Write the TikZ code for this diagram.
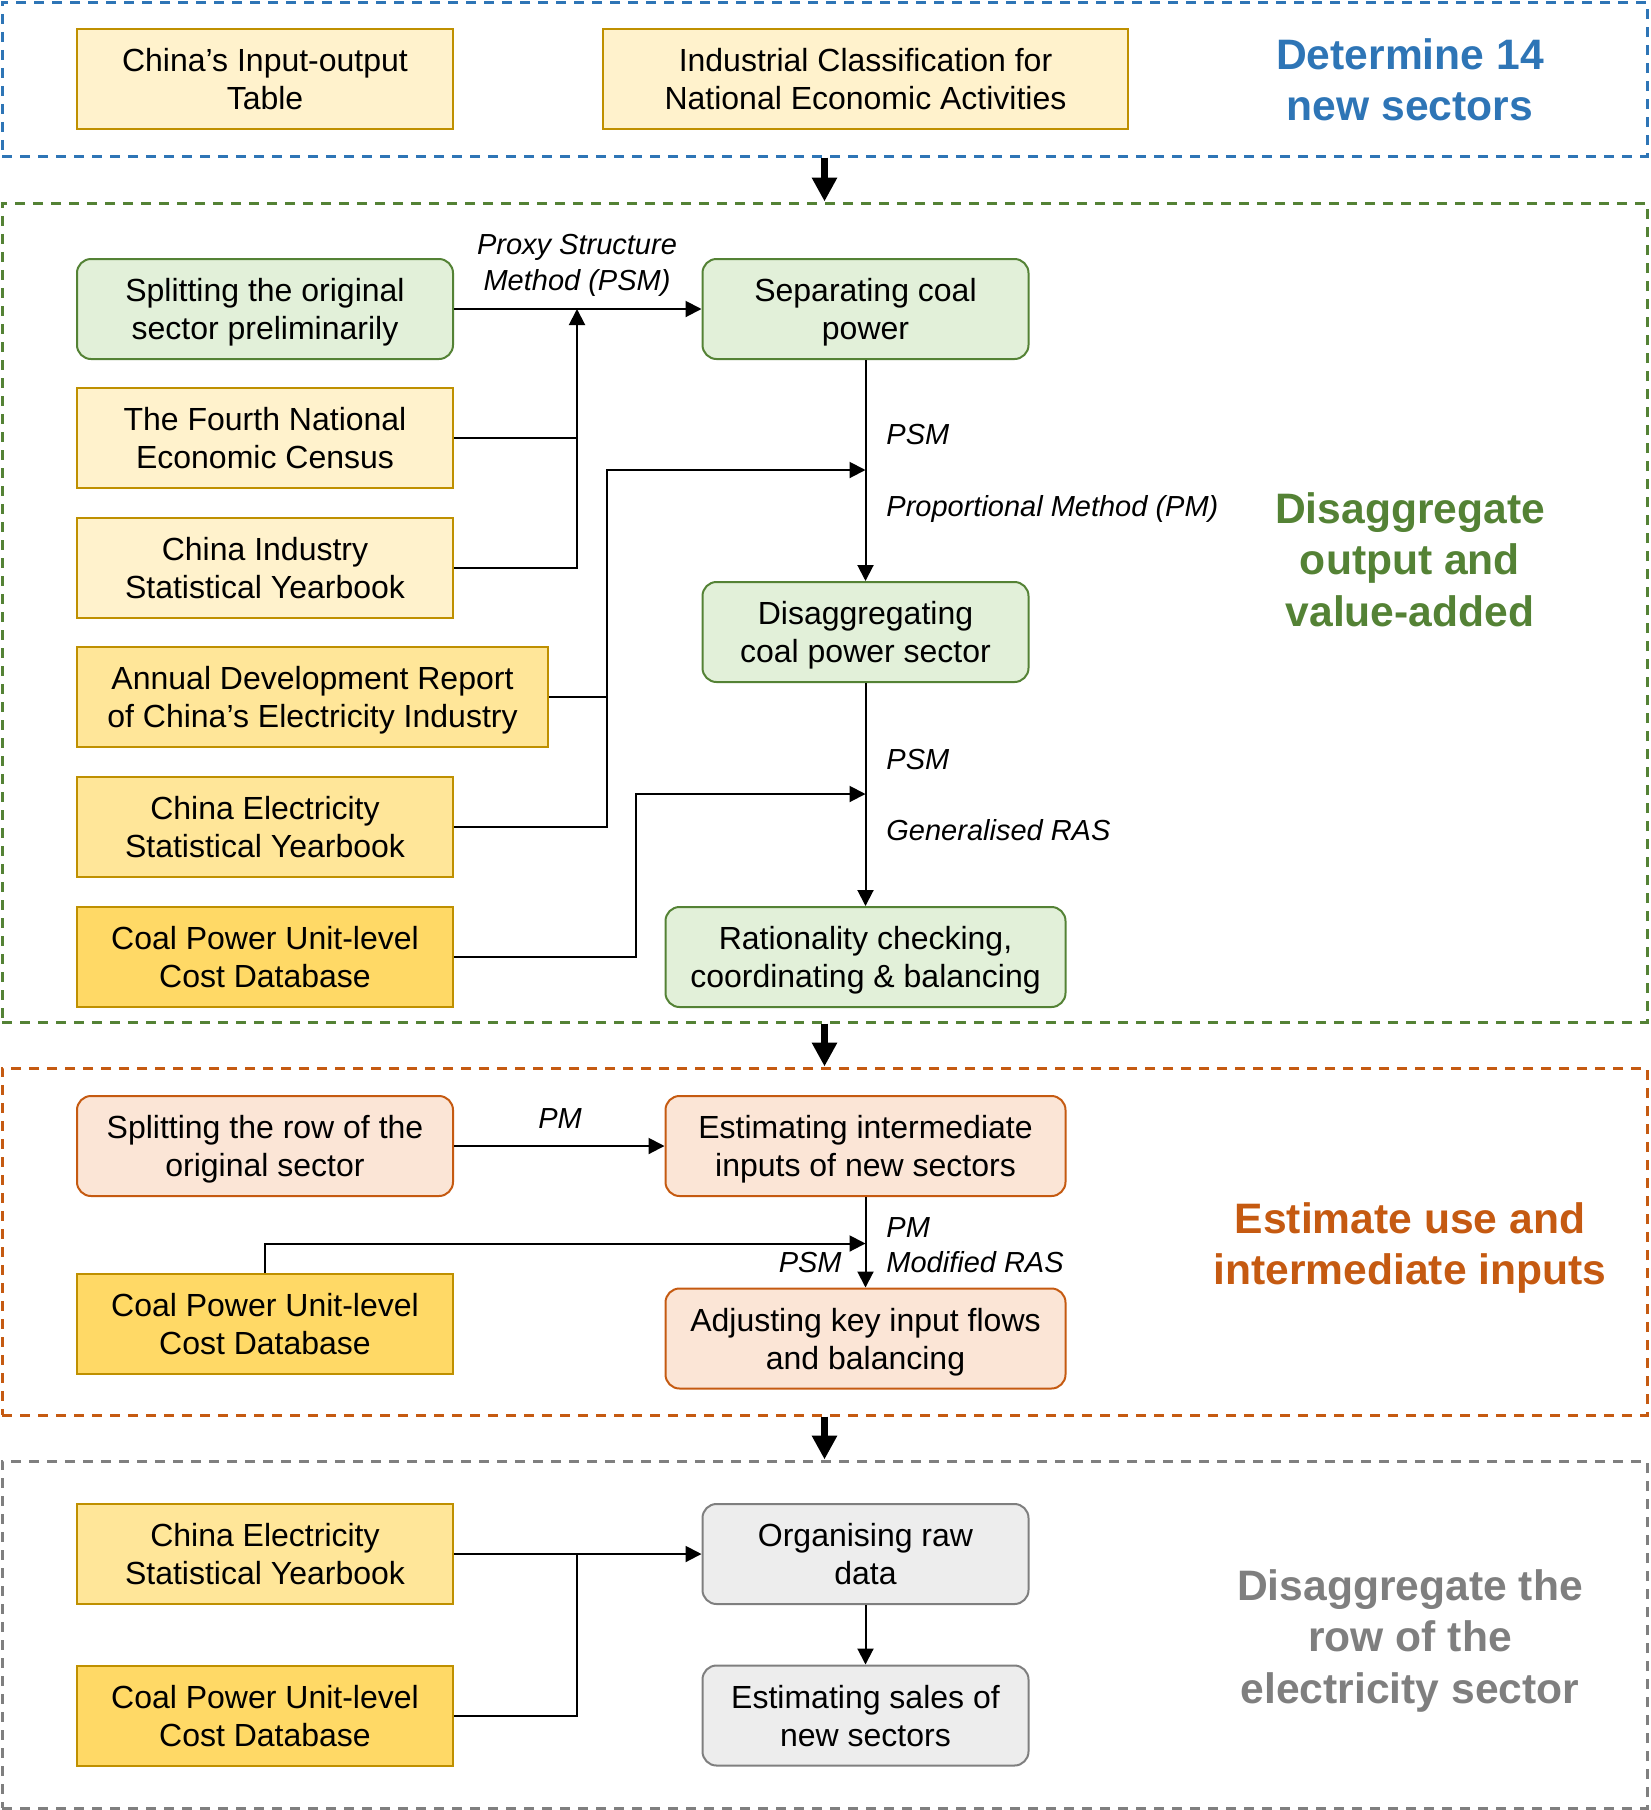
\documentclass[tikz,border=0pt]{standalone}
\usepackage{fontspec}
\setmainfont{Liberation Sans}
\usetikzlibrary{arrows.meta}

\definecolor{blueline}{HTML}{2E75B6}
\definecolor{greenline}{HTML}{548235}
\definecolor{greenfill}{HTML}{E2F0D9}
\definecolor{orangeline}{HTML}{C55A11}
\definecolor{orangefill}{HTML}{FBE5D6}
\definecolor{greyline}{HTML}{7F7F7F}
\definecolor{greyfill}{HTML}{EDEDED}
\definecolor{srcline}{HTML}{BF9000}
\definecolor{srclight}{HTML}{FFF2CC}
\definecolor{srcmid}{HTML}{FFE699}
\definecolor{srcdark}{HTML}{FFD966}

\begin{document}
\begin{tikzpicture}[x=0.5pt, y=-0.5pt,
  box/.style={draw=#1, line width=1pt, minimum height=50pt, align=center, inner sep=0pt, font=\fontsize{16}{19}\selectfont,
    text height=30.6pt, text depth=0pt},
  srcbox/.style={box=srcline, fill=#1, minimum width=188pt},
  taskbox/.style 2 args={box=#1, fill=#2, rounded corners=7pt},
  frame/.style={draw=#1, line width=1.5pt, dash pattern=on 5pt off 4pt, minimum width=822.5pt, inner sep=0pt},
  head/.style={text=#1, font=\fontsize{21.3}{25.7}\selectfont\bfseries, align=center, inner sep=0pt,
    execute at end node={\rule[-4.5pt]{0pt}{4.5pt}}},
  lab/.style={font=\fontsize{14.5}{17.7}\selectfont\itshape, inner sep=0pt, align=left,
    execute at end node={\rule[-3.5pt]{0pt}{3.5pt}}},
  link/.style={line width=1pt},
  arr/.style={link, -{Triangle[length=8pt,width=8pt]}},
  bigarr/.style={line width=3.5pt, -{Triangle[length=12pt,width=12pt]}}]

\useasboundingbox (0,0) rectangle (1650,1810);

\node[frame=blueline, minimum height=77pt] (f1) at (824.5,79) {};
\node[frame=greenline, minimum height=409.5pt] (f2) at (824.5,612.5) {};
\node[frame=orangeline, minimum height=173.5pt] (f3) at (824.5,1241.5) {};
\node[frame=greyline, minimum height=173.5pt] (f4) at (824.5,1634.5) {};

\node[head=blueline] (h1) at (1410,84) {Determine 14\\new sectors};
\node[head=greenline] (h2) at (1410,564) {Disaggregate\\output and\\value-added};
\node[head=orangeline] (h3) at (1410,1248) {Estimate use and\\intermediate inputs};
\node[head=greyline] (h4) at (1410,1641) {Disaggregate the\\row of the\\electricity sector};

\node[srcbox=srclight] (iot) at (265,79) {China’s Input-output\\Table};
\node[srcbox=srclight, minimum width=262.5pt] (icl) at (865.5,79) {Industrial Classification for\\National Economic Activities};

\node[taskbox={greenline}{greenfill}, minimum width=188pt] (split) at (265,309) {Splitting the original\\sector preliminarily};
\node[taskbox={greenline}{greenfill}, minimum width=163pt] (sep) at (865.5,309) {Separating coal\\power};
\node[srcbox=srclight] (census) at (265,438) {The Fourth National\\Economic Census};
\node[srcbox=srclight] (indyb) at (265,568) {China Industry\\Statistical Yearbook};
\node[taskbox={greenline}{greenfill}, minimum width=163pt] (dis) at (865.5,632) {Disaggregating\\coal power sector};
\node[srcbox=srcmid, minimum width=235.5pt] (adr) at (312.5,697) {Annual Development Report\\of China’s Electricity Industry};
\node[srcbox=srcmid] (elecyb) at (265,827) {China Electricity\\Statistical Yearbook};
\node[srcbox=srcdark] (cdb1) at (265,957) {Coal Power Unit-level\\Cost Database};
\node[taskbox={greenline}{greenfill}, minimum width=200pt] (rat) at (865.5,957) {Rationality checking,\\coordinating \& balancing};

\node[taskbox={orangeline}{orangefill}, minimum width=188pt] (splitrow) at (265,1146) {Splitting the row of the\\original sector};
\node[taskbox={orangeline}{orangefill}, minimum width=200pt] (est) at (865.5,1146) {Estimating intermediate\\inputs of new sectors};
\node[srcbox=srcdark] (cdb2) at (265,1323.5) {Coal Power Unit-level\\Cost Database};
\node[taskbox={orangeline}{orangefill}, minimum width=200pt] (adj) at (865.5,1338.5) {Adjusting key input flows\\and balancing};

\node[srcbox=srcmid] (elecyb2) at (265,1554) {China Electricity\\Statistical Yearbook};
\node[taskbox={greyline}{greyfill}, minimum width=163pt] (org) at (865.5,1554) {Organising raw\\data};
\node[srcbox=srcdark] (cdb3) at (265,1715.5) {Coal Power Unit-level\\Cost Database};
\node[taskbox={greyline}{greyfill}, minimum width=163pt] (sales) at (865.5,1715.5) {Estimating sales of\\new sectors};

\node[lab, align=center] (l1) at (577,266) {Proxy Structure\\Method (PSM)};
\node[lab, anchor=west] (l2) at (886,437.5) {PSM};
\node[lab, anchor=west] (l3) at (886,509.5) {Proportional Method (PM)};
\node[lab, anchor=west] (l4) at (886,762.5) {PSM};
\node[lab, anchor=west] (l5) at (886,833.5) {Generalised RAS};
\node[lab] (l6) at (560,1122.5) {PM};
\node[lab, anchor=west] (l7) at (886,1248.5) {PM\\Modified RAS};
\node[lab, anchor=east] (l8) at (842,1265.5) {PSM};

\coordinate (j1) at (577,309);
\coordinate (j2) at (865.5,470);
\coordinate (k2) at (607,470);
\coordinate (j3) at (865.5,794);
\coordinate (k3) at (636,794);
\coordinate (j4) at (865.5,1243.5);
\coordinate (k4) at (577,1554);

\draw[bigarr] (f1.south) -- (f2.north);
\draw[bigarr] (f2.south) -- (f3.north);
\draw[bigarr] (f3.south) -- (f4.north);

\draw[arr] (split) -- (sep);
\draw[link] (census.east) -- (census.east -| j1);
\draw[arr] (indyb.east) -| (j1);
\draw[arr] (sep) -- (dis);
\draw[link] (adr.east) -- (adr.east -| k2);
\draw[arr] (elecyb.east) -| (k2) -- (j2);
\draw[arr] (dis) -- (rat);
\draw[arr] (cdb1.east) -| (k3) -- (j3);

\draw[arr] (splitrow) -- (est);
\draw[arr] (est) -- (adj);
\draw[arr] (cdb2.north) |- (j4);

\draw[arr] (elecyb2) -- (org);
\draw[link] (cdb3.east) -| (k4);
\draw[arr] (org) -- (sales);

\end{tikzpicture}
\end{document}
